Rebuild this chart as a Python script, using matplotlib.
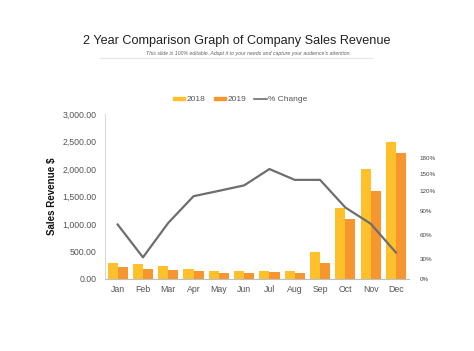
import numpy as np
import matplotlib.pyplot as plt
from matplotlib.lines import Line2D
from matplotlib.patches import Patch

plt.rcParams['font.family'] = ['Liberation Sans', 'DejaVu Sans']

months = ['Jan', 'Feb', 'Mar', 'Apr', 'May', 'Jun', 'Jul', 'Aug', 'Sep', 'Oct', 'Nov', 'Dec']
sales2018 = [290, 265, 240, 185, 140, 140, 140, 140, 500, 1300, 2000, 2500]
sales2019 = [210, 190, 165, 140, 115, 115, 120, 115, 300, 1100, 1600, 2300]
pct_change = [73, 32, 75, 112, 120, 130, 160, 140, 140, 95, 74, 38]

left_ticks = [0, 500, 1000, 1500, 2000, 2500, 3000]
right_ticks = [0, 30, 60, 90, 120, 150, 180]

c2018 = '#FFC12B'
c2019 = '#F7962E'
cline = '#6E6E6E'

# the % axis in the original slide is not evenly spaced, map it onto the $ axis
pct_marks = [0, 30, 60, 90, 120, 150, 180, 270]
pct_pos = [5, 369, 805, 1242, 1605, 1904, 2195, 3000]


def fwd(v):
    return np.interp(v, pct_marks, pct_pos, left=-1000, right=4000)


def inv(v):
    return np.interp(v, pct_pos, pct_marks, left=-100, right=400)


fig = plt.figure(figsize=(4.74, 3.51), dpi=100)
ax = fig.add_axes([105 / 474, 1 - 279 / 351, (408.6 - 105) / 474, 165 / 351])

x = np.arange(len(months))
w = 0.4
ax.bar(x - w / 2, sales2018, w, color=c2018, zorder=2)
ax.bar(x + w / 2, sales2019, w, color=c2019, zorder=2)

ax.set_xlim(-0.5, 11.5)
ax.set_ylim(0, 3000)
ax.set_yticks(left_ticks)
ax.set_yticklabels(['{:,.2f}'.format(t) for t in left_ticks])
ax.set_xticks(x)
ax.set_xticklabels(months)
ax.tick_params(axis='both', length=0, labelsize=6.3, colors='#555555', pad=4)
ax.tick_params(axis='y', pad=6)
for s in ['top', 'right']:
    ax.spines[s].set_visible(False)
ax.spines['left'].set_color('#d9d9d9')
ax.spines['bottom'].set_color('#bfbfbf')
ax.spines['left'].set_linewidth(0.8)
ax.spines['bottom'].set_linewidth(0.8)
ax.set_ylabel('Sales Revenue $', fontsize=7, fontweight='bold', color='#111111', labelpad=4)

ax2 = ax.twinx()
ax2.set_yscale('function', functions=(fwd, inv))
ax2.set_ylim(0, 270)
ax2.plot(x, pct_change, color=cline, lw=1.6, zorder=3)
ax2.set_yticks(right_ticks)
ax2.set_yticklabels(['{}%'.format(t) for t in right_ticks])
ax2.tick_params(axis='y', length=0, labelsize=4.5, colors='#444444', pad=8)
ax2.yaxis.set_minor_locator(plt.NullLocator())
for s in ax2.spines.values():
    s.set_visible(False)

handles = [Patch(color=c2018), Patch(color=c2019), Line2D([], [], color=cline, lw=1.2)]
fig.legend(handles, ['2018', '2019', '% Change'], loc='center', bbox_to_anchor=(240 / 474, 1 - 100 / 351),
           ncol=3, frameon=False, fontsize=6, handlelength=1.5, handleheight=0.35,
           handletextpad=0.15, columnspacing=1.0, labelcolor='#555555')

fig.text(237 / 474, 1 - 41 / 351, '2 Year Comparison Graph of Company Sales Revenue',
         ha='center', va='center', fontsize=9.1, color='#222222')
fig.text(248 / 474, 1 - 54 / 351,
         "This slide is 100% editable. Adapt it to your needs and capture your audience's attention.",
         ha='center', va='center', fontsize=3.8, style='italic', color='#666666')
fig.add_artist(Line2D([100 / 474, 372 / 474], [1 - 57.5 / 351] * 2, color='#e6e6e6', lw=0.8))

fig.savefig('out.png', dpi=100)
